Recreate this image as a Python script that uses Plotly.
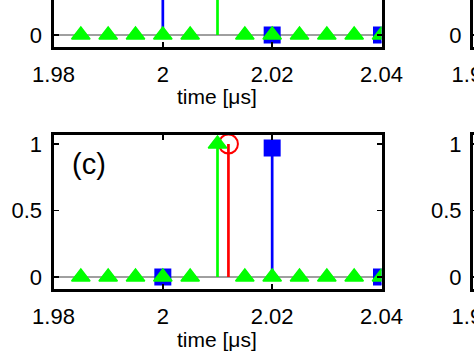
import plotly.graph_objects as go

W, H = 474, 357

# ---------------- data ----------------
x_ticks = [1.98, 2.0, 2.02, 2.04]
x_ticktext = ["1.98", "2", "2.02", "2.04"]
y_ticks = [0, 0.5, 1]
y_ticktext = ["0", "0.5", "1"]

green_t = [1.985, 1.99, 1.995, 2.0, 2.005, 2.01, 2.015, 2.02, 2.025, 2.03, 2.035, 2.04]
blue_t = [2.0, 2.02, 2.04]

# panel above (only its lower part is visible)
a_green = [0, 0, 0, 0, 0, 1, 0, 0, 0, 0, 0, 0]
a_blue = [1, 0, 0]

# panel (c)
c_green = [0, 0, 0, 0, 0, 1, 0, 0, 0, 0, 0, 0]
c_red_t = [2.012]
c_red = [1.0]
c_blue = [0, 0.97, 0]

x_title = "time [μs]"
panel_label = "(c)"

# ---------------- helpers ----------------
def fx(p):
    return p / W

def fy(p):
    return 1 - p / H

GREEN, BLUE, RED = "#00ff00", "#0000ff", "#ff0000"
FONT = "Liberation Sans, Arial, sans-serif"

def stem(t, v, color, symbol, size, lw, xa, ya):
    return go.Scatter(
        x=t, y=v, mode="markers", xaxis=xa, yaxis=ya, showlegend=False,
        marker=dict(symbol=symbol, size=size,
                    color=color,
                    line=dict(color=color, width=lw)),
        error_y=dict(type="data", symmetric=False, array=[0] * len(v),
                     arrayminus=list(v), color=color, thickness=2.7, width=0),
        hoverinfo="skip",
    )

fig = go.Figure()

# top-left panel
fig.add_trace(stem(blue_t, a_blue, BLUE, "square", 15, 2, "x", "y"))
fig.add_trace(stem(green_t, a_green, GREEN, "triangle-up", 16, 1.5, "x", "y"))

# bottom-left panel (c)
fig.add_trace(stem(blue_t, c_blue, BLUE, "square", 15, 2, "x2", "y2"))
fig.add_trace(stem(c_red_t, c_red, RED, "circle-open", 19, 2, "x2", "y2"))
fig.add_trace(stem(green_t, c_green, GREEN, "triangle-up", 16, 1.5, "x2", "y2"))

# neighbouring column (only its left frame edge is inside the picture)
for xa, ya in [("x3", "y3"), ("x4", "y4")]:
    fig.add_trace(go.Scatter(x=[None], y=[None], mode="markers", xaxis=xa, yaxis=ya,
                             showlegend=False, hoverinfo="skip"))

# ---------------- axes ----------------
scale = 133.0  # px per unit
top_dom = (0, 46.8)
bot_dom = (135, 288.5)
top_zero = 35
bot_zero = 277

def yrange(dom, zero):
    return [-(dom[1] - zero) / scale, (zero - dom[0]) / scale]

common_x = dict(tickmode="array", tickvals=x_ticks, ticktext=x_ticktext,
                ticks="inside", ticklen=5, tickwidth=1.5, tickcolor="black",
                showline=True, linewidth=3, linecolor="black", automargin=False,
                showgrid=False, zeroline=False, ticklabelstandoff=6,
                ticklabeloverflow="allow",
                tickfont=dict(size=22, family=FONT, color="black"))
common_y = dict(tickmode="array", tickvals=y_ticks, ticktext=y_ticktext,
                ticks="inside", ticklen=5, tickwidth=1.5, tickcolor="black",
                showline=True, linewidth=3, linecolor="black", automargin=False,
                showgrid=False, zeroline=False, ticklabelstandoff=4,
                ticklabeloverflow="allow",
                tickfont=dict(size=22, family=FONT, color="black"))

left_dom = [fx(53.5), fx(381.5)]
right_dom = [fx(473.0), 1.0]
right_range = [1.98, 1.98 + 0.06 * 1.0 / 328]

fig.update_layout(
    template="none",
    xaxis=dict(domain=left_dom, anchor="y", range=[1.98, 2.04], mirror=False, **common_x),
    yaxis=dict(domain=[fy(top_dom[1]), fy(top_dom[0])], anchor="x",
               range=yrange(top_dom, top_zero), mirror="ticks", **common_y),
    xaxis2=dict(domain=left_dom, anchor="y2", range=[1.98, 2.04], mirror="ticks", **common_x),
    yaxis2=dict(domain=[fy(bot_dom[1]), fy(bot_dom[0])], anchor="x2",
                range=yrange(bot_dom, bot_zero), mirror="ticks", **common_y),
    xaxis3=dict(domain=right_dom, anchor="y3", range=right_range, mirror=False, **common_x),
    yaxis3=dict(domain=[fy(top_dom[1]), fy(top_dom[0])], anchor="x3",
                range=yrange(top_dom, top_zero), mirror=False, **common_y),
    xaxis4=dict(domain=right_dom, anchor="y4", range=right_range, mirror="ticks", **common_x),
    yaxis4=dict(domain=[fy(bot_dom[1]), fy(bot_dom[0])], anchor="x4",
                range=yrange(bot_dom, bot_zero), mirror=False, **common_y),
    width=W, height=H, margin=dict(l=0, r=0, t=0, b=0, pad=0),
    paper_bgcolor="white", plot_bgcolor="white",
    font=dict(family=FONT, size=22, color="black"),
    showlegend=False,
)

# baselines
for xr, yr in [("x", "y"), ("x2", "y2")]:
    fig.add_shape(type="line", xref=f"{xr} domain", yref=yr, x0=0, x1=1, y0=0, y1=0,
                  line=dict(color="#404040", width=1), layer="below")

# texts
fig.add_annotation(text=x_title, x=fx(217), y=fy(97), xref="paper", yref="paper",
                   showarrow=False, xanchor="center", yanchor="middle",
                   font=dict(size=21, family=FONT, color="black"))
fig.add_annotation(text=x_title, x=fx(217), y=fy(339), xref="paper", yref="paper",
                   showarrow=False, xanchor="center", yanchor="middle",
                   font=dict(size=21, family=FONT, color="black"))
fig.add_annotation(text=panel_label, x=fx(89), y=fy(164.5), xref="paper", yref="paper",
                   showarrow=False, xanchor="center", yanchor="middle",
                   font=dict(size=29, family=FONT, color="black"))

fig.write_html("out.html", config={"displayModeBar": False, "staticPlot": True},
               post_script="document.body.style.margin='0';document.body.style.overflow='hidden';")
